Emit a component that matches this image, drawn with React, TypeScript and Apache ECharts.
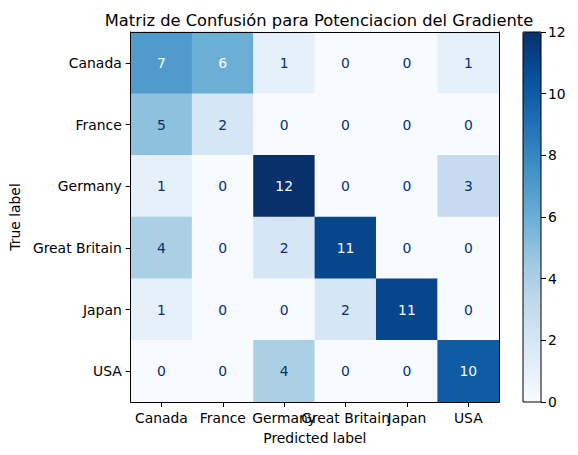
import { useEffect, useRef } from "react";
import * as echarts from "echarts";

const labels = ["Canada", "France", "Germany", "Great Britain", "Japan", "USA"];

// filas = etiqueta real, columnas = etiqueta predicha
const rowCanada = [7, 6, 1, 0, 0, 1];
const rowFrance = [5, 2, 0, 0, 0, 0];
const rowGermany = [1, 0, 12, 0, 0, 3];
const rowGreatBritain = [4, 0, 2, 11, 0, 0];
const rowJapan = [1, 0, 0, 2, 11, 0];
const rowUSA = [0, 0, 4, 0, 0, 10];

const colorbarTicks = [0, 2, 4, 6, 8, 10, 12];

const blues = [
  "#f7fbff",
  "#deebf7",
  "#c6dbef",
  "#9ecae1",
  "#6baed6",
  "#4292c6",
  "#2171b5",
  "#08519c",
  "#08306b",
];

const FONT = "DejaVu Sans";

export default function App() {
  const chartRef = useRef<HTMLDivElement>(null);

  useEffect(() => {
    if (!chartRef.current) return;
    const chart = echarts.init(chartRef.current, null, { renderer: "svg" });

    const matrix = [rowCanada, rowFrance, rowGermany, rowGreatBritain, rowJapan, rowUSA];
    const flat = matrix.flat();
    const vmax = Math.max(...flat);
    const vmin = Math.min(...flat);
    const thresh = (vmax + vmin) / 2;

    // Datos del heatmap: [columna, fila, valor]
    const cells: any[] = [];
    matrix.forEach((row, i) => {
      row.forEach((v, j) => {
        cells.push({
          value: [j, i, v],
          label: { color: v < thresh ? blues[8] : blues[0] },
        });
      });
    });

    const option: echarts.EChartsOption = {
      animation: false,
      backgroundColor: "#ffffff",
      title: {
        text: "Matriz de Confusión para Potenciacion del Gradiente",
        left: 314,
        textAlign: "center",
        top: 7,
        textStyle: {
          fontFamily: FONT,
          fontSize: 16.3,
          fontWeight: "normal",
          color: "#000",
        },
      },
      grid: [
        { left: 129, top: 32, width: 370, height: 370 },
        {
          left: 523,
          top: 32,
          width: 18,
          height: 370,
          show: true,
          z: 10,
          borderColor: "#000",
          borderWidth: 1,
          backgroundColor: "transparent",
        },
      ],
      visualMap: [
        {
          type: "continuous",
          seriesIndex: 0,
          min: 0,
          max: 12,
          show: true,
          orient: "vertical",
          left: 523,
          top: 32,
          itemWidth: 18,
          itemHeight: 370,
          padding: 0,
          text: ["", ""],
          showLabel: false,
          calculable: false,
          hoverLink: false,
          inRange: { color: blues },
        } as any,
      ],
      xAxis: [
        {
          type: "category",
          data: labels,
          gridIndex: 0,
          position: "bottom",
          z: 10,
          name: "Predicted label",
          nameLocation: "middle",
          nameGap: 29,
          nameTextStyle: { fontFamily: FONT, fontSize: 13.9, color: "#000" },
          axisLine: { show: true, lineStyle: { color: "#000", width: 1 } },
          axisTick: {
            show: true,
            alignWithLabel: true,
            length: 5,
            lineStyle: { color: "#000" },
          },
          axisLabel: {
            interval: 0,
            hideOverlap: false,
            margin: 9,
            fontFamily: FONT,
            fontSize: 13.9,
            color: "#000",
          },
          splitLine: { show: false },
        },
        {
          type: "category",
          data: labels,
          gridIndex: 0,
          position: "top",
          z: 10,
          axisLine: { show: true, lineStyle: { color: "#000", width: 1 } },
          axisTick: { show: false },
          axisLabel: { show: false },
          splitLine: { show: false },
        },
        {
          type: "category",
          data: [""],
          gridIndex: 1,
          show: false,
        },
      ],
      yAxis: [
        {
          type: "category",
          data: labels,
          gridIndex: 0,
          inverse: true,
          position: "left",
          z: 10,
          name: "True label",
          nameLocation: "middle",
          nameGap: 106,
          nameRotate: 90,
          nameTextStyle: { fontFamily: FONT, fontSize: 13.9, color: "#000" },
          axisLine: { show: true, lineStyle: { color: "#000", width: 1 } },
          axisTick: {
            show: true,
            alignWithLabel: true,
            length: 5,
            lineStyle: { color: "#000" },
          },
          axisLabel: {
            margin: 9,
            fontFamily: FONT,
            fontSize: 13.9,
            color: "#000",
          },
          splitLine: { show: false },
        },
        {
          type: "category",
          data: labels,
          gridIndex: 0,
          inverse: true,
          position: "right",
          z: 10,
          axisLine: { show: true, lineStyle: { color: "#000", width: 1 } },
          axisTick: { show: false },
          axisLabel: { show: false },
          splitLine: { show: false },
        },
        {
          type: "value",
          gridIndex: 1,
          position: "right",
          min: colorbarTicks[0],
          max: colorbarTicks[colorbarTicks.length - 1],
          interval: 2,
          z: 10,
          axisLine: { show: false },
          axisTick: {
            show: true,
            length: 5,
            lineStyle: { color: "#000" },
          },
          axisLabel: {
            margin: 7,
            fontFamily: FONT,
            fontSize: 13.9,
            color: "#000",
          },
          splitLine: { show: false },
        },
      ],
      series: [
        {
          type: "heatmap",
          xAxisIndex: 0,
          yAxisIndex: 0,
          data: cells,
          label: {
            show: true,
            fontFamily: FONT,
            fontSize: 13.9,
            formatter: (p: any) => String(p.value[2]),
          },
          itemStyle: { borderWidth: 0 },
          emphasis: { disabled: true },
        },
      ],
    };

    chart.setOption(option);

    return () => {
      chart.dispose();
    };
  }, []);

  return (
    <div
      ref={chartRef}
      style={{ position: "fixed", left: 0, top: 0, width: 578, height: 455 }}
    />
  );
}
